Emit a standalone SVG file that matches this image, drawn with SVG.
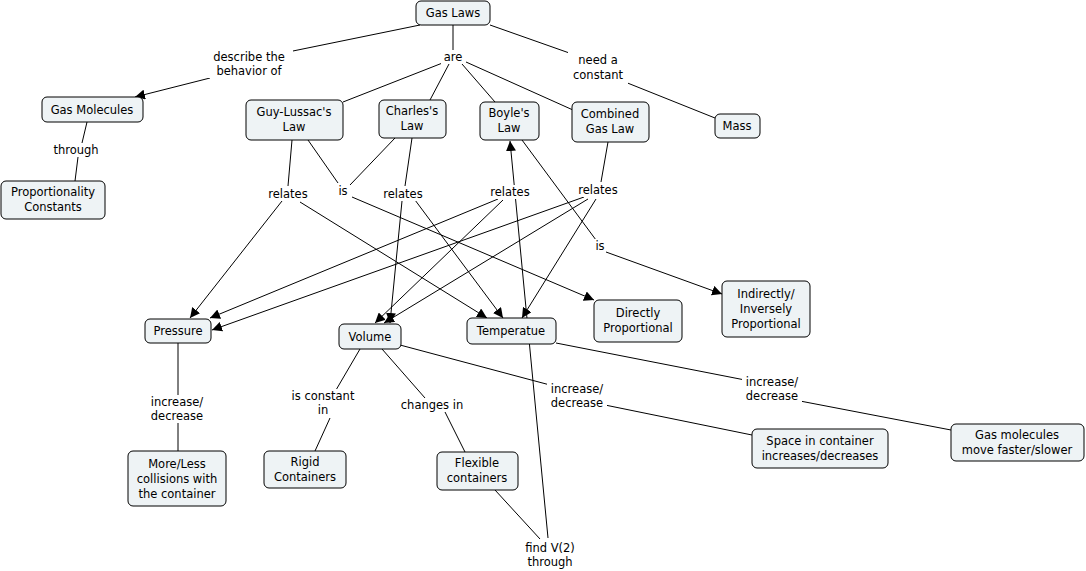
<svg xmlns="http://www.w3.org/2000/svg" width="1086" height="571" viewBox="0 0 1086 571">
<style>
.n rect{fill:#eef3f5;stroke:#000;stroke-width:1}
text{font-family:"DejaVu Sans",Verdana,sans-serif;font-size:11.5px;fill:#000;text-anchor:middle}
.c line{stroke:#000;stroke-width:1}
</style>
<defs><marker id="a" viewBox="0 0 10 10" refX="10" refY="5" markerWidth="10" markerHeight="10" markerUnits="userSpaceOnUse" orient="auto"><path d="M0,0L10,5L0,10z"/></marker></defs>
<rect width="1086" height="571" fill="#fff"/>
<g class="c">
<line x1="420" y1="25" x2="288" y2="52"/>
<line x1="210" y1="78" x2="135" y2="97" marker-end="url(#a)"/>
<line x1="453" y1="25" x2="453" y2="50"/>
<line x1="445" y1="62" x2="343" y2="102"/>
<line x1="449" y1="64" x2="430" y2="100"/>
<line x1="462" y1="64" x2="495" y2="102"/>
<line x1="466" y1="62" x2="573" y2="110"/>
<line x1="490" y1="25" x2="575" y2="55"/>
<line x1="625" y1="82" x2="715" y2="118"/>
<line x1="87" y1="122" x2="82" y2="143"/>
<line x1="78" y1="157" x2="75" y2="181"/>
<line x1="292" y1="140" x2="288" y2="186"/>
<line x1="282" y1="201" x2="190" y2="318" marker-end="url(#a)"/>
<line x1="300" y1="202" x2="487" y2="318" marker-end="url(#a)"/>
<line x1="308" y1="140" x2="338" y2="183"/>
<line x1="395" y1="138" x2="350" y2="185"/>
<line x1="352" y1="197" x2="594" y2="300" marker-end="url(#a)"/>
<line x1="412" y1="138" x2="405" y2="186"/>
<line x1="402" y1="201" x2="390" y2="323" marker-end="url(#a)"/>
<line x1="415" y1="200" x2="503" y2="318" marker-end="url(#a)"/>
<line x1="498" y1="199" x2="210" y2="318" marker-end="url(#a)"/>
<line x1="503" y1="200" x2="375" y2="323" marker-end="url(#a)"/>
<line x1="608" y1="142" x2="601" y2="182"/>
<line x1="584" y1="197" x2="212" y2="330" marker-end="url(#a)"/>
<line x1="588" y1="199" x2="384" y2="323" marker-end="url(#a)"/>
<line x1="596" y1="199" x2="522" y2="318" marker-end="url(#a)"/>
<line x1="522" y1="140" x2="596" y2="240"/>
<line x1="606" y1="252" x2="722" y2="294" marker-end="url(#a)"/>
<line x1="548" y1="538" x2="510" y2="141" marker-end="url(#a)"/>
<line x1="495" y1="490" x2="540" y2="539"/>
<line x1="178" y1="343" x2="178" y2="395"/>
<line x1="178" y1="422" x2="178" y2="451"/>
<line x1="360" y1="349" x2="336" y2="390"/>
<line x1="330" y1="418" x2="315" y2="451"/>
<line x1="382" y1="349" x2="425" y2="398"/>
<line x1="445" y1="412" x2="465" y2="452"/>
<line x1="400" y1="345" x2="550" y2="385"/>
<line x1="605" y1="405" x2="752" y2="435"/>
<line x1="556" y1="343" x2="745" y2="380"/>
<line x1="800" y1="401" x2="951" y2="430"/>
</g>
<g fill="#fff">
<rect x="205" y="46" width="88" height="32"/><rect x="441" y="50" width="24" height="14"/><rect x="568" y="52" width="60" height="32"/>
<rect x="50" y="143" width="52" height="14"/><rect x="265" y="187" width="46" height="14"/><rect x="337" y="184" width="12" height="14"/>
<rect x="380" y="187" width="46" height="14"/><rect x="487" y="185" width="46" height="14"/><rect x="575" y="183" width="46" height="14"/>
<rect x="594" y="239" width="12" height="14"/><rect x="148" y="395" width="60" height="28"/><rect x="300" y="389" width="48" height="28"/>
<rect x="397" y="398" width="70" height="14"/><rect x="547" y="382" width="60" height="28"/><rect x="742" y="375" width="60" height="28"/>
<rect x="522" y="540" width="56" height="28"/>
</g>
<g>
<text x="249" y="61">describe the</text><text x="249" y="75">behavior of</text>
<text x="453" y="61">are</text>
<text x="598" y="64">need a</text><text x="598" y="79">constant</text>
<text x="76" y="154">through</text>
<text x="288" y="198">relates</text>
<text x="343" y="195">is</text>
<text x="403" y="198">relates</text>
<text x="510" y="196">relates</text>
<text x="598" y="194">relates</text>
<text x="600" y="250">is</text>
<text x="177" y="406">increase/</text><text x="177" y="420">decrease</text>
<text x="323" y="400">is constant</text><text x="323" y="414">in</text>
<text x="432" y="409">changes in</text>
<text x="577" y="393">increase/</text><text x="577" y="407">decrease</text>
<text x="772" y="386">increase/</text><text x="772" y="400">decrease</text>
<text x="550" y="552">find V(2)</text><text x="550" y="566">through</text>
</g>
<g id="gaslaws" class="n"><rect x="416" y="1" width="74" height="24" rx="5"/><text x="453" y="17">Gas Laws</text></g>
<g id="gasmolecules" class="n"><rect x="42" y="97" width="101" height="25" rx="5"/><text x="92" y="114">Gas Molecules</text></g>
<g id="proportionality" class="n"><rect x="1" y="181" width="104" height="38" rx="5"/><text x="53" y="196">Proportionality</text><text x="53" y="211">Constants</text></g>
<g id="guylussac" class="n"><rect x="246" y="100" width="97" height="40" rx="5"/><text x="294" y="116">Guy-Lussac's</text><text x="294" y="131">Law</text></g>
<g id="charles" class="n"><rect x="379" y="100" width="67" height="38" rx="5"/><text x="412" y="115">Charles's</text><text x="412" y="130">Law</text></g>
<g id="boyle" class="n"><rect x="480" y="102" width="59" height="38" rx="5"/><text x="509" y="117">Boyle's</text><text x="509" y="132">Law</text></g>
<g id="combined" class="n"><rect x="572" y="102" width="77" height="40" rx="5"/><text x="610" y="118">Combined</text><text x="610" y="133">Gas Law</text></g>
<g id="mass" class="n"><rect x="715" y="114" width="45" height="24" rx="5"/><text x="737" y="130">Mass</text></g>
<g id="pressure" class="n"><rect x="145" y="319" width="66" height="24" rx="5"/><text x="178" y="335">Pressure</text></g>
<g id="volume" class="n"><rect x="339" y="324" width="62" height="25" rx="5"/><text x="370" y="341">Volume</text></g>
<g id="temperatue" class="n"><rect x="467" y="318" width="89" height="26" rx="5"/><text x="511" y="335">Temperatue</text></g>
<g id="directly" class="n"><rect x="594" y="300" width="88" height="42" rx="5"/><text x="638" y="317">Directly</text><text x="638" y="332">Proportional</text></g>
<g id="indirectly" class="n"><rect x="722" y="281" width="88" height="56" rx="5"/><text x="766" y="298">Indirectly/</text><text x="766" y="313">Inversely</text><text x="766" y="328">Proportional</text></g>
<g id="moreless" class="n"><rect x="128" y="451" width="98" height="55" rx="5"/><text x="177" y="468">More/Less</text><text x="177" y="483">collisions with</text><text x="177" y="498">the container</text></g>
<g id="rigid" class="n"><rect x="264" y="451" width="82" height="37" rx="5"/><text x="305" y="466">Rigid</text><text x="305" y="481">Containers</text></g>
<g id="flexible" class="n"><rect x="437" y="452" width="81" height="38" rx="5"/><text x="477" y="467">Flexible</text><text x="477" y="482">containers</text></g>
<g id="space" class="n"><rect x="752" y="429" width="136" height="39" rx="5"/><text x="820" y="445">Space in container</text><text x="820" y="460">increases/decreases</text></g>
<g id="faster" class="n"><rect x="951" y="424" width="133" height="37" rx="5"/><text x="1017" y="439">Gas molecules</text><text x="1017" y="454">move faster/slower</text></g>
</svg>
